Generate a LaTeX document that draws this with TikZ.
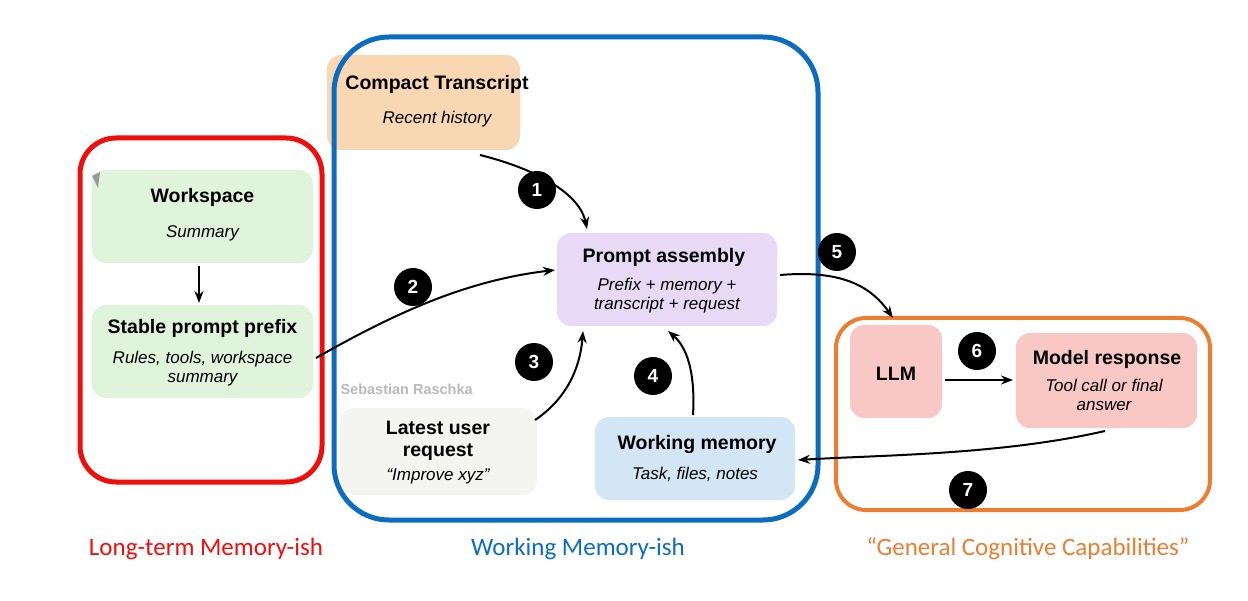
\documentclass[tikz,border=0pt]{standalone}
\usepackage{fontspec}
\setmainfont{Liberation Sans}
\newfontfamily\carl{Carlito}
\usetikzlibrary{arrows.meta}
\definecolor{cred}{HTML}{F20D0D}
\definecolor{cblue}{HTML}{0B6CC0}
\definecolor{corange}{HTML}{ED7D31}
\definecolor{fgreen}{HTML}{E0F4DC}
\definecolor{forange}{HTML}{FAD7B3}
\definecolor{fpurple}{HTML}{E8DAF7}
\definecolor{fgray}{HTML}{F4F4F1}
\definecolor{fblue}{HTML}{D3E6F5}
\definecolor{fpink}{HTML}{F9C7C4}
\begin{document}
\begin{tikzpicture}[x=1pt,y=-1pt,
  card/.style={rounded corners=14pt,draw=none},
  ttl/.style={font=\fontsize{19.5}{22.5}\selectfont\bfseries,align=center},
  sub/.style={font=\fontsize{17}{19}\selectfont\itshape,align=center},
  num/.style={circle,fill=black,minimum size=38pt,inner sep=0pt,text=white,font=\fontsize{19}{19}\selectfont\bfseries},
  con/.style={-{Stealth[length=12pt,width=9pt]},line width=2pt},
  grp/.style={rounded corners=#1},
  lab/.style={font=\carl\fontsize{25}{28}\selectfont}]
\useasboundingbox (0,0) rectangle (1248,601);
% cards
\fill[fgreen,card] (92,170) rectangle (313,263);
\node (ws) at (202.5,216.5) {};
\node[ttl] at (202.5,197) {Workspace};
\node[sub] at (202.5,233) {Summary};
\fill[fgreen,card] (92,305) rectangle (313,398);
\node (pf) at (202.5,351.5) {};
\node[ttl] at (202.5,328) {Stable prompt prefix};
\node[sub] at (202.5,369) {Rules, tools, workspace\\summary};
\fill[forange,card] (327,55) rectangle (520,150);
\node[ttl] at (437,84) {Compact Transcript};
\node[sub] at (437,119) {Recent history};
\fill[fpurple,card] (557,233) rectangle (777,326);
\node[ttl] at (664,257) {Prompt assembly};
\node[sub] at (667,296) {Prefix + memory +\\transcript + request};
\fill[fgray,card] (340,408) rectangle (537,495);
\node[ttl] at (438,441) {Latest user\\request};
\node[sub] at (438,476) {“Improve xyz”};
\fill[fblue,card] (595,417) rectangle (795,500);
\node[ttl] at (697,445) {Working memory};
\node[sub] at (695,474) {Task, files, notes};
\fill[fpink,card] (850,325) rectangle (942,418);
\node[ttl] at (896,374) {LLM};
\fill[fpink,card] (1016,333) rectangle (1197,428);
\node[ttl] at (1107,359) {Model response};
\node[sub] at (1104,395) {Tool call or final\\answer};
\fill[gray!80] (92,176) -- (100,172) -- (98,188) -- cycle;
% group frames
\draw[cred,line width=5pt,grp=36pt] (80,138) rectangle (322,482);
\draw[cblue,line width=5pt,grp=55pt] (334,37) rectangle (818,520);
\draw[corange,line width=4pt,grp=30pt] (836,318) rectangle (1210,510);
% coordinates
\coordinate (a1) at (199,266); \coordinate (b1) at (199,303);
\coordinate (ct) at (480,155); \coordinate (pa1) at (587,229);
\coordinate (pfe) at (316,358); \coordinate (pa2) at (555,270);
\coordinate (lr) at (535,420); \coordinate (pa3) at (583,331);
\coordinate (wm) at (693,415); \coordinate (pa4) at (668,331);
\coordinate (pa5) at (780,275); \coordinate (llm5) at (893,318);
\coordinate (llm6) at (945,380); \coordinate (mr6) at (1013,380);
\coordinate (mr7) at (1105,431); \coordinate (wm7) at (798,460);
% connectors
\draw[con] (a1) -- (b1);
\draw[con] (ct) .. controls (540,170) and (580,195) .. (pa1);
\draw[con] (pfe) .. controls (400,310) and (470,280) .. (pa2);
\draw[con] (lr) .. controls (565,400) and (580,370) .. (pa3);
\draw[con] (wm) .. controls (695,380) and (690,350) .. (pa4);
\draw[con] (pa5) .. controls (840,270) and (870,285) .. (llm5);
\draw[con] (llm6) -- (mr6);
\draw[con] (mr7) .. controls (1000,455) and (880,455) .. (wm7);
% numbers
\node[num] (n1) at (537,190) {1};
\node[num] (n2) at (413,287) {2};
\node[num] (n3) at (534,362) {3};
\node[num] (n4) at (653,376) {4};
\node[num] (n5) at (837,252) {5};
\node[num] (n6) at (977,351) {6};
\node[num] (n7) at (968,490) {7};
% watermark
\node[anchor=west,text=gray!55,font=\fontsize{14.5}{16}\selectfont\bfseries] (wmk) at (337,389) {Sebastian Raschka};
% labels
\node[lab,text=cred] (l1) at (206,549) {Long-term Memory-ish};
\node[lab,text=cblue] (l2) at (578,549) {Working Memory-ish};
\node[lab,text=corange] (l3) at (1028,549) {“General Cognitive Capabilities”};
\end{tikzpicture}
\end{document}
